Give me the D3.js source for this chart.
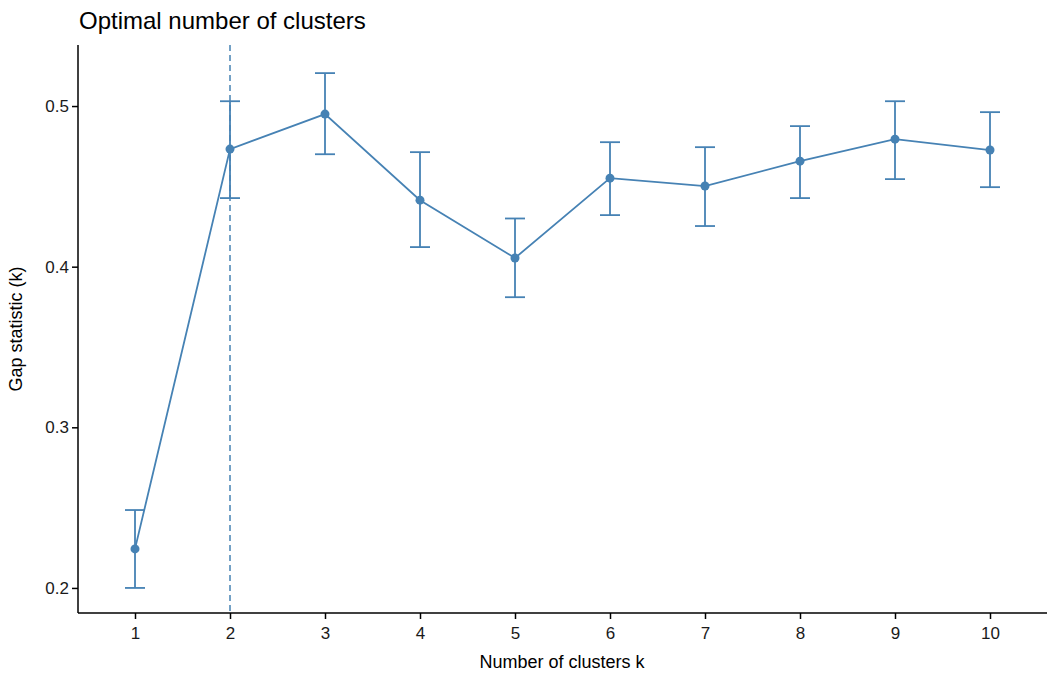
<!DOCTYPE html><html><head><meta charset="utf-8"><script src="https://cdn.jsdelivr.net/npm/d3@7"></script>
<style>body{margin:0;background:#fff}text{font-family:Arial,"Liberation Sans",sans-serif}</style></head><body>
<svg id="c" width="1056" height="675"></svg>
<script>
const ks=[1,2,3,4,5,6,7,8,9,10];
const gap=[0.2243,0.4732,0.4950,0.4414,0.4054,0.4551,0.4502,0.4657,0.4794,0.4726];
const ymin=[0.2000,0.4427,0.4700,0.4122,0.3810,0.4321,0.4253,0.4427,0.4545,0.4495];
const ymax=[0.2485,0.5030,0.5205,0.4713,0.4300,0.4775,0.4744,0.4875,0.5030,0.4962];
const yTicks=[0.2,0.3,0.4,0.5];
const optimalK=2;
const col="#4682B4";
const svg=d3.select("#c");
const x=d3.scaleLinear().domain([0.4,10.6]).range([78,1047]);
const y=d3.scaleLinear().domain([0.1844,0.538]).range([613,45]);
const xa=svg.append("g").attr("transform","translate(0,613)").call(d3.axisBottom(x).tickValues(ks).tickFormat(d3.format("d")).tickSizeOuter(0).tickSize(6));
const ya=svg.append("g").attr("transform","translate(78,0)").call(d3.axisLeft(y).tickValues(yTicks).tickFormat(d3.format(".1f")).tickSizeOuter(0).tickSize(6));
[xa,ya].forEach(a=>{a.select(".domain").remove();a.selectAll("line").attr("stroke","#000").attr("stroke-width",1.5);a.selectAll("text").style("font-size","17px").attr("fill","#1a1a1a");});
xa.selectAll("text").attr("dy","1.0em");
ya.selectAll("text").attr("x",-9);
svg.append("line").attr("x1",78).attr("x2",1047).attr("y1",613).attr("y2",613).attr("stroke","#000").attr("stroke-width",1.5);
svg.append("line").attr("x1",78).attr("x2",78).attr("y1",45).attr("y2",613).attr("stroke","#000").attr("stroke-width",1.5);
svg.append("line").attr("x1",x(optimalK)).attr("x2",x(optimalK)).attr("y1",45).attr("y2",613).attr("stroke",col).attr("stroke-width",1.5).attr("stroke-dasharray","6,4");
svg.append("path").datum(ks).attr("fill","none").attr("stroke",col).attr("stroke-width",1.8)
 .attr("d",d3.line().x(d=>x(d)).y((d,i)=>y(gap[i])));
const g=svg.append("g").attr("stroke",col).attr("stroke-width",1.8);
ks.forEach((k,i)=>{
 g.append("line").attr("x1",x(k)).attr("x2",x(k)).attr("y1",y(ymin[i])).attr("y2",y(ymax[i]));
 [ymin[i],ymax[i]].forEach(v=>g.append("line").attr("x1",x(k)-10).attr("x2",x(k)+10).attr("y1",y(v)).attr("y2",y(v)));
});
svg.append("g").selectAll("circle").data(ks).join("circle").attr("cx",d=>x(d)).attr("cy",(d,i)=>y(gap[i])).attr("r",4.5).attr("fill",col);
svg.append("text").attr("x",79).attr("y",29).style("font-size","24px").attr("fill","#000").text("Optimal number of clusters");
svg.append("text").attr("x",562).attr("y",668).attr("text-anchor","middle").style("font-size","18px").text("Number of clusters k");
svg.append("text").attr("transform","translate(22,329) rotate(-90)").attr("text-anchor","middle").style("font-size","18px").text("Gap statistic (k)");
</script></body></html>
